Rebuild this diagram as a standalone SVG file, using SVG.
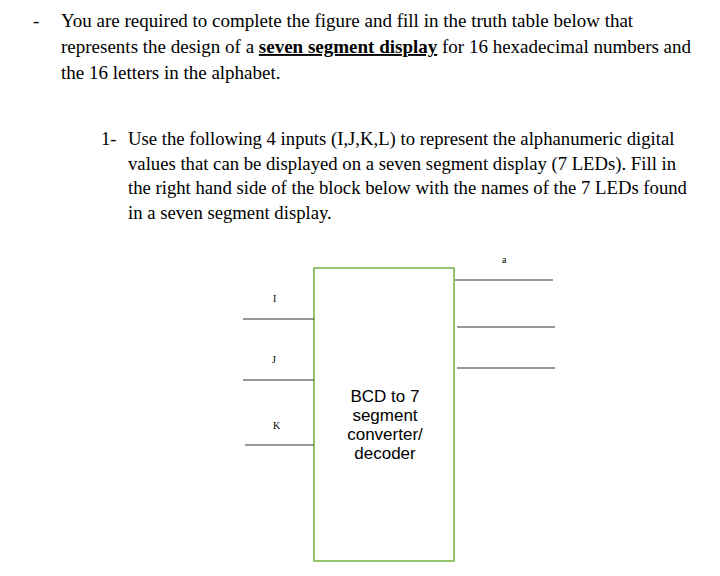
<svg xmlns="http://www.w3.org/2000/svg" width="720" height="576" viewBox="0 0 720 576">
<style>
.t{font-family:"Liberation Serif",serif;font-size:19px;fill:#000}
.t2{font-family:"Liberation Serif",serif;font-size:18.7px;fill:#000}
.s{font-family:"Liberation Serif",serif;font-size:10px;fill:#000}
.c{font-family:"Liberation Sans",sans-serif;font-size:17px;fill:#000;text-anchor:middle}
.w{stroke:#333;stroke-width:1.2}
</style>
<rect width="720" height="576" fill="#fff"/>
<g id="text">
<text class="t" x="33" y="27">-</text>
<text class="t" x="61" y="27">You are required to complete the figure and fill in the truth table below that</text>
<text class="t" x="61" y="53">represents the design of a <tspan font-weight="bold" text-decoration="underline">seven segment display</tspan> for 16 hexadecimal numbers and</text>
<text class="t" x="61" y="79">the 16 letters in the alphabet.</text>
<text class="t2" x="101" y="145">1-</text>
<text class="t2" x="128" y="145">Use the following 4 inputs (I,J,K,L) to represent the alphanumeric digital</text>
<text class="t2" x="128" y="170">values that can be displayed on a seven segment display (7 LEDs). Fill in</text>
<text class="t2" x="128" y="194">the right hand side of the block below with the names of the 7  LEDs found</text>
<text class="t2" x="128" y="219">in a seven segment display.</text>
</g>
<g id="block">
<rect x="314" y="268" width="140" height="293" fill="#fff" stroke="#7ab648" stroke-width="1.6"/>
<text class="c" x="385" y="402">BCD to 7</text>
<text class="c" x="385" y="421">segment</text>
<text class="c" x="385" y="440">converter/</text>
<text class="c" x="385" y="459">decoder</text>
</g>
<g id="labels">
<text class="s" x="273" y="302">I</text>
<text class="s" x="272" y="363">J</text>
<text class="s" x="273" y="429">K</text>
<text class="s" x="502" y="263">a</text>
</g>
<g id="connectors">
<line class="w" x1="243" y1="319" x2="314" y2="319"/>
<line class="w" x1="243" y1="380" x2="314" y2="380"/>
<line class="w" x1="245" y1="445" x2="314" y2="445"/>
<line class="w" x1="455" y1="280" x2="553" y2="280"/>
<line class="w" x1="457" y1="327" x2="555" y2="327"/>
<line class="w" x1="457" y1="368" x2="555" y2="368"/>
</g>
</svg>
